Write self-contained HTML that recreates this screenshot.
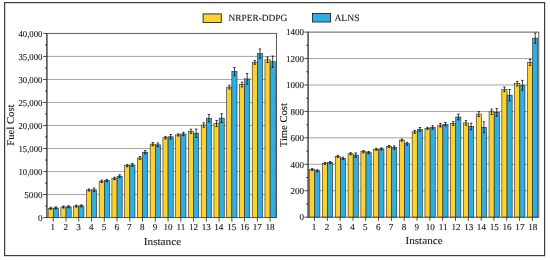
<!DOCTYPE html><html><head><meta charset="utf-8"><style>html,body{margin:0;padding:0;background:#fff;}svg{display:block;}text{font-family:'Liberation Serif', serif;fill:#1a1a1a;stroke:#1a1a1a;stroke-width:0.12px;text-rendering:geometricPrecision;}</style></head><body>
<svg width="550" height="260" viewBox="0 0 550 260">
<rect x="0" y="0" width="550" height="260" fill="#fff"/>
<rect x="4.6" y="2.6" width="540" height="253" fill="none" stroke="#3c3c3c" stroke-width="1.2"/>
<rect x="203.1" y="13.9" width="18.2" height="8.6" fill="#fdd22b" stroke="#262626" stroke-width="0.9"/>
<rect x="312.5" y="13.5" width="18.1" height="8.5" fill="#31aee0" stroke="#262626" stroke-width="0.9"/>
<text x="228.52" y="21.00" style="font-size:9.6px" textLength="58.78" lengthAdjust="spacingAndGlyphs">NRPER-DDPG</text>
<text x="334.40" y="21.00" style="font-size:9.6px" textLength="25.19" lengthAdjust="spacingAndGlyphs">ALNS</text>
<line x1="46.90" y1="194.57" x2="276.50" y2="194.57" stroke="#959595" stroke-width="0.85"/>
<line x1="46.90" y1="171.55" x2="276.50" y2="171.55" stroke="#959595" stroke-width="0.85"/>
<line x1="46.90" y1="148.52" x2="276.50" y2="148.52" stroke="#959595" stroke-width="0.85"/>
<line x1="46.90" y1="125.50" x2="276.50" y2="125.50" stroke="#959595" stroke-width="0.85"/>
<line x1="46.90" y1="102.47" x2="276.50" y2="102.47" stroke="#959595" stroke-width="0.85"/>
<line x1="46.90" y1="79.45" x2="276.50" y2="79.45" stroke="#959595" stroke-width="0.85"/>
<line x1="46.90" y1="56.43" x2="276.50" y2="56.43" stroke="#959595" stroke-width="0.85"/>
<rect x="48.13" y="208.31" width="5.15" height="9.29" fill="#fdd22b" stroke="#262626" stroke-width="0.6"/>
<rect x="53.28" y="207.93" width="5.15" height="9.67" fill="#31aee0" stroke="#262626" stroke-width="0.6"/>
<path d="M50.70 207.31V209.31M49.50 207.31H51.90M49.50 209.31H51.90" stroke="#000" stroke-width="0.75" fill="none"/>
<path d="M55.85 206.93V208.93M54.65 206.93H57.05M54.65 208.93H57.05" stroke="#000" stroke-width="0.75" fill="none"/>
<rect x="60.88" y="207.01" width="5.15" height="10.59" fill="#fdd22b" stroke="#262626" stroke-width="0.6"/>
<rect x="66.03" y="206.78" width="5.15" height="10.82" fill="#31aee0" stroke="#262626" stroke-width="0.6"/>
<path d="M63.46 206.01V208.01M62.26 206.01H64.66M62.26 208.01H64.66" stroke="#000" stroke-width="0.75" fill="none"/>
<path d="M68.61 205.78V207.78M67.41 205.78H69.81M67.41 207.78H69.81" stroke="#000" stroke-width="0.75" fill="none"/>
<rect x="73.64" y="206.09" width="5.15" height="11.51" fill="#fdd22b" stroke="#262626" stroke-width="0.6"/>
<rect x="78.79" y="205.86" width="5.15" height="11.74" fill="#31aee0" stroke="#262626" stroke-width="0.6"/>
<path d="M76.21 205.09V207.09M75.01 205.09H77.41M75.01 207.09H77.41" stroke="#000" stroke-width="0.75" fill="none"/>
<path d="M81.36 204.86V206.86M80.16 204.86H82.56M80.16 206.86H82.56" stroke="#000" stroke-width="0.75" fill="none"/>
<rect x="86.39" y="189.97" width="5.15" height="27.63" fill="#fdd22b" stroke="#262626" stroke-width="0.6"/>
<rect x="91.54" y="189.83" width="5.15" height="27.77" fill="#31aee0" stroke="#262626" stroke-width="0.6"/>
<path d="M88.97 188.97V190.97M87.77 188.97H90.17M87.77 190.97H90.17" stroke="#000" stroke-width="0.75" fill="none"/>
<path d="M94.12 188.03V191.63M92.92 188.03H95.32M92.92 191.63H95.32" stroke="#000" stroke-width="0.75" fill="none"/>
<rect x="99.15" y="181.22" width="5.15" height="36.38" fill="#fdd22b" stroke="#262626" stroke-width="0.6"/>
<rect x="104.30" y="180.53" width="5.15" height="37.07" fill="#31aee0" stroke="#262626" stroke-width="0.6"/>
<path d="M101.72 180.02V182.42M100.52 180.02H102.92M100.52 182.42H102.92" stroke="#000" stroke-width="0.75" fill="none"/>
<path d="M106.88 179.33V181.73M105.67 179.33H108.08M105.67 181.73H108.08" stroke="#000" stroke-width="0.75" fill="none"/>
<rect x="111.91" y="178.46" width="5.15" height="39.14" fill="#fdd22b" stroke="#262626" stroke-width="0.6"/>
<rect x="117.06" y="176.16" width="5.15" height="41.44" fill="#31aee0" stroke="#262626" stroke-width="0.6"/>
<path d="M114.48 177.26V179.66M113.28 177.26H115.68M113.28 179.66H115.68" stroke="#000" stroke-width="0.75" fill="none"/>
<path d="M119.63 174.75V177.56M118.43 174.75H120.83M118.43 177.56H120.83" stroke="#000" stroke-width="0.75" fill="none"/>
<rect x="124.66" y="165.56" width="5.15" height="52.04" fill="#fdd22b" stroke="#262626" stroke-width="0.6"/>
<rect x="129.81" y="164.87" width="5.15" height="52.73" fill="#31aee0" stroke="#262626" stroke-width="0.6"/>
<path d="M127.24 164.36V166.76M126.04 164.36H128.44M126.04 166.76H128.44" stroke="#000" stroke-width="0.75" fill="none"/>
<path d="M132.39 163.47V166.27M131.19 163.47H133.59M131.19 166.27H133.59" stroke="#000" stroke-width="0.75" fill="none"/>
<rect x="137.42" y="157.97" width="5.15" height="59.63" fill="#fdd22b" stroke="#262626" stroke-width="0.6"/>
<rect x="142.57" y="152.21" width="5.15" height="65.39" fill="#31aee0" stroke="#262626" stroke-width="0.6"/>
<path d="M139.99 156.57V159.37M138.79 156.57H141.19M138.79 159.37H141.19" stroke="#000" stroke-width="0.75" fill="none"/>
<path d="M145.14 150.61V153.81M143.94 150.61H146.34M143.94 153.81H146.34" stroke="#000" stroke-width="0.75" fill="none"/>
<rect x="150.17" y="144.15" width="5.15" height="73.45" fill="#fdd22b" stroke="#262626" stroke-width="0.6"/>
<rect x="155.32" y="144.84" width="5.15" height="72.76" fill="#31aee0" stroke="#262626" stroke-width="0.6"/>
<path d="M152.75 142.55V145.75M151.55 142.55H153.95M151.55 145.75H153.95" stroke="#000" stroke-width="0.75" fill="none"/>
<path d="M157.90 142.94V146.74M156.70 142.94H159.10M156.70 146.74H159.10" stroke="#000" stroke-width="0.75" fill="none"/>
<rect x="162.93" y="137.70" width="5.15" height="79.90" fill="#fdd22b" stroke="#262626" stroke-width="0.6"/>
<rect x="168.08" y="136.78" width="5.15" height="80.82" fill="#31aee0" stroke="#262626" stroke-width="0.6"/>
<path d="M165.50 136.40V139.00M164.30 136.40H166.70M164.30 139.00H166.70" stroke="#000" stroke-width="0.75" fill="none"/>
<path d="M170.65 134.48V139.08M169.45 134.48H171.85M169.45 139.08H171.85" stroke="#000" stroke-width="0.75" fill="none"/>
<rect x="175.68" y="134.94" width="5.15" height="82.66" fill="#fdd22b" stroke="#262626" stroke-width="0.6"/>
<rect x="180.83" y="133.95" width="5.15" height="83.65" fill="#31aee0" stroke="#262626" stroke-width="0.6"/>
<path d="M178.26 133.84V136.04M177.06 133.84H179.46M177.06 136.04H179.46" stroke="#000" stroke-width="0.75" fill="none"/>
<path d="M183.41 132.25V135.65M182.21 132.25H184.61M182.21 135.65H184.61" stroke="#000" stroke-width="0.75" fill="none"/>
<rect x="188.44" y="131.30" width="5.15" height="86.30" fill="#fdd22b" stroke="#262626" stroke-width="0.6"/>
<rect x="193.59" y="133.19" width="5.15" height="84.41" fill="#31aee0" stroke="#262626" stroke-width="0.6"/>
<path d="M191.01 129.20V133.40M189.81 129.20H192.21M189.81 133.40H192.21" stroke="#000" stroke-width="0.75" fill="none"/>
<path d="M196.16 128.99V137.39M194.96 128.99H197.36M194.96 137.39H197.36" stroke="#000" stroke-width="0.75" fill="none"/>
<rect x="201.19" y="125.04" width="5.15" height="92.56" fill="#fdd22b" stroke="#262626" stroke-width="0.6"/>
<rect x="206.34" y="118.21" width="5.15" height="99.39" fill="#31aee0" stroke="#262626" stroke-width="0.6"/>
<path d="M203.77 122.84V127.24M202.57 122.84H204.97M202.57 127.24H204.97" stroke="#000" stroke-width="0.75" fill="none"/>
<path d="M208.92 114.51V121.91M207.72 114.51H210.12M207.72 121.91H210.12" stroke="#000" stroke-width="0.75" fill="none"/>
<rect x="213.95" y="123.57" width="5.15" height="94.03" fill="#fdd22b" stroke="#262626" stroke-width="0.6"/>
<rect x="219.10" y="118.13" width="5.15" height="99.47" fill="#31aee0" stroke="#262626" stroke-width="0.6"/>
<path d="M216.53 120.57V126.57M215.33 120.57H217.72M215.33 126.57H217.72" stroke="#000" stroke-width="0.75" fill="none"/>
<path d="M221.67 113.73V122.53M220.47 113.73H222.87M220.47 122.53H222.87" stroke="#000" stroke-width="0.75" fill="none"/>
<rect x="226.71" y="87.14" width="5.15" height="130.46" fill="#fdd22b" stroke="#262626" stroke-width="0.6"/>
<rect x="231.86" y="71.62" width="5.15" height="145.98" fill="#31aee0" stroke="#262626" stroke-width="0.6"/>
<path d="M229.28 85.24V89.04M228.08 85.24H230.48M228.08 89.04H230.48" stroke="#000" stroke-width="0.75" fill="none"/>
<path d="M234.43 67.52V75.72M233.23 67.52H235.63M233.23 75.72H235.63" stroke="#000" stroke-width="0.75" fill="none"/>
<rect x="239.46" y="84.52" width="5.15" height="133.08" fill="#fdd22b" stroke="#262626" stroke-width="0.6"/>
<rect x="244.61" y="78.90" width="5.15" height="138.70" fill="#31aee0" stroke="#262626" stroke-width="0.6"/>
<path d="M242.04 82.12V86.92M240.84 82.12H243.24M240.84 86.92H243.24" stroke="#000" stroke-width="0.75" fill="none"/>
<path d="M247.19 73.50V84.30M245.99 73.50H248.39M245.99 84.30H248.39" stroke="#000" stroke-width="0.75" fill="none"/>
<rect x="252.22" y="62.41" width="5.15" height="155.19" fill="#fdd22b" stroke="#262626" stroke-width="0.6"/>
<rect x="257.37" y="53.57" width="5.15" height="164.03" fill="#31aee0" stroke="#262626" stroke-width="0.6"/>
<path d="M254.79 60.61V64.21M253.59 60.61H255.99M253.59 64.21H255.99" stroke="#000" stroke-width="0.75" fill="none"/>
<path d="M259.94 48.97V58.17M258.74 48.97H261.14M258.74 58.17H261.14" stroke="#000" stroke-width="0.75" fill="none"/>
<rect x="264.97" y="59.79" width="5.15" height="157.81" fill="#fdd22b" stroke="#262626" stroke-width="0.6"/>
<rect x="270.12" y="61.72" width="5.15" height="155.88" fill="#31aee0" stroke="#262626" stroke-width="0.6"/>
<path d="M267.55 56.99V62.59M266.35 56.99H268.75M266.35 62.59H268.75" stroke="#000" stroke-width="0.75" fill="none"/>
<path d="M272.70 56.02V67.42M271.50 56.02H273.90M271.50 67.42H273.90" stroke="#000" stroke-width="0.75" fill="none"/>
<rect x="46.90" y="33.40" width="229.60" height="184.20" fill="none" stroke="#4a4a4a" stroke-width="0.9"/>
<line x1="46.90" y1="32.95" x2="46.90" y2="218.05" stroke="#4a4a4a" stroke-width="1.15"/>
<line x1="43.10" y1="217.60" x2="46.90" y2="217.60" stroke="#222" stroke-width="0.8"/>
<line x1="43.10" y1="194.57" x2="46.90" y2="194.57" stroke="#222" stroke-width="0.8"/>
<line x1="43.10" y1="171.55" x2="46.90" y2="171.55" stroke="#222" stroke-width="0.8"/>
<line x1="43.10" y1="148.52" x2="46.90" y2="148.52" stroke="#222" stroke-width="0.8"/>
<line x1="43.10" y1="125.50" x2="46.90" y2="125.50" stroke="#222" stroke-width="0.8"/>
<line x1="43.10" y1="102.47" x2="46.90" y2="102.47" stroke="#222" stroke-width="0.8"/>
<line x1="43.10" y1="79.45" x2="46.90" y2="79.45" stroke="#222" stroke-width="0.8"/>
<line x1="43.10" y1="56.43" x2="46.90" y2="56.43" stroke="#222" stroke-width="0.8"/>
<line x1="43.10" y1="33.40" x2="46.90" y2="33.40" stroke="#222" stroke-width="0.8"/>
<line x1="45.10" y1="206.09" x2="46.90" y2="206.09" stroke="#111" stroke-width="0.85"/>
<line x1="45.10" y1="183.06" x2="46.90" y2="183.06" stroke="#111" stroke-width="0.85"/>
<line x1="45.10" y1="160.04" x2="46.90" y2="160.04" stroke="#111" stroke-width="0.85"/>
<line x1="45.10" y1="137.01" x2="46.90" y2="137.01" stroke="#111" stroke-width="0.85"/>
<line x1="45.10" y1="113.99" x2="46.90" y2="113.99" stroke="#111" stroke-width="0.85"/>
<line x1="45.10" y1="90.96" x2="46.90" y2="90.96" stroke="#111" stroke-width="0.85"/>
<line x1="45.10" y1="67.94" x2="46.90" y2="67.94" stroke="#111" stroke-width="0.85"/>
<line x1="45.10" y1="44.91" x2="46.90" y2="44.91" stroke="#111" stroke-width="0.85"/>
<line x1="53.28" y1="217.60" x2="53.28" y2="221.60" stroke="#222" stroke-width="0.8"/>
<line x1="66.03" y1="217.60" x2="66.03" y2="221.60" stroke="#222" stroke-width="0.8"/>
<line x1="78.79" y1="217.60" x2="78.79" y2="221.60" stroke="#222" stroke-width="0.8"/>
<line x1="91.54" y1="217.60" x2="91.54" y2="221.60" stroke="#222" stroke-width="0.8"/>
<line x1="104.30" y1="217.60" x2="104.30" y2="221.60" stroke="#222" stroke-width="0.8"/>
<line x1="117.06" y1="217.60" x2="117.06" y2="221.60" stroke="#222" stroke-width="0.8"/>
<line x1="129.81" y1="217.60" x2="129.81" y2="221.60" stroke="#222" stroke-width="0.8"/>
<line x1="142.57" y1="217.60" x2="142.57" y2="221.60" stroke="#222" stroke-width="0.8"/>
<line x1="155.32" y1="217.60" x2="155.32" y2="221.60" stroke="#222" stroke-width="0.8"/>
<line x1="168.08" y1="217.60" x2="168.08" y2="221.60" stroke="#222" stroke-width="0.8"/>
<line x1="180.83" y1="217.60" x2="180.83" y2="221.60" stroke="#222" stroke-width="0.8"/>
<line x1="193.59" y1="217.60" x2="193.59" y2="221.60" stroke="#222" stroke-width="0.8"/>
<line x1="206.34" y1="217.60" x2="206.34" y2="221.60" stroke="#222" stroke-width="0.8"/>
<line x1="219.10" y1="217.60" x2="219.10" y2="221.60" stroke="#222" stroke-width="0.8"/>
<line x1="231.86" y1="217.60" x2="231.86" y2="221.60" stroke="#222" stroke-width="0.8"/>
<line x1="244.61" y1="217.60" x2="244.61" y2="221.60" stroke="#222" stroke-width="0.8"/>
<line x1="257.37" y1="217.60" x2="257.37" y2="221.60" stroke="#222" stroke-width="0.8"/>
<line x1="270.12" y1="217.60" x2="270.12" y2="221.60" stroke="#222" stroke-width="0.8"/>
<g class="t">
<text x="50.58" y="230.30" style="font-size:9.1px">1</text>
<text x="63.50" y="230.30" style="font-size:9.1px">2</text>
<text x="76.18" y="230.30" style="font-size:9.1px">3</text>
<text x="88.95" y="230.30" style="font-size:9.1px">4</text>
<text x="101.65" y="230.30" style="font-size:9.1px">5</text>
<text x="114.42" y="230.30" style="font-size:9.1px">6</text>
<text x="127.08" y="230.30" style="font-size:9.1px">7</text>
<text x="139.99" y="230.30" style="font-size:9.1px">8</text>
<text x="152.78" y="230.30" style="font-size:9.1px">9</text>
<text x="163.40" y="230.30" style="font-size:9.1px">10</text>
<text x="176.43" y="230.30" style="font-size:9.1px">11</text>
<text x="188.99" y="230.30" style="font-size:9.1px">12</text>
<text x="201.68" y="230.30" style="font-size:9.1px">13</text>
<text x="214.32" y="230.30" style="font-size:9.1px">14</text>
<text x="227.19" y="230.30" style="font-size:9.1px">15</text>
<text x="239.90" y="230.30" style="font-size:9.1px">16</text>
<text x="252.66" y="230.30" style="font-size:9.1px">17</text>
<text x="265.44" y="230.30" style="font-size:9.1px">18</text>
<text x="37.94" y="220.83" style="font-size:9.1px" textLength="4.55" lengthAdjust="spacingAndGlyphs">0</text>
<text x="24.29" y="197.80" style="font-size:9.1px" textLength="18.20" lengthAdjust="spacingAndGlyphs">5000</text>
<text x="18.45" y="174.78" style="font-size:9.1px" textLength="24.02" lengthAdjust="spacingAndGlyphs">10,000</text>
<text x="18.45" y="151.75" style="font-size:9.1px" textLength="24.02" lengthAdjust="spacingAndGlyphs">15,000</text>
<text x="18.45" y="128.73" style="font-size:9.1px" textLength="24.02" lengthAdjust="spacingAndGlyphs">20,000</text>
<text x="18.45" y="105.70" style="font-size:9.1px" textLength="24.02" lengthAdjust="spacingAndGlyphs">25,000</text>
<text x="18.45" y="82.68" style="font-size:9.1px" textLength="24.02" lengthAdjust="spacingAndGlyphs">30,000</text>
<text x="18.45" y="59.65" style="font-size:9.1px" textLength="24.02" lengthAdjust="spacingAndGlyphs">35,000</text>
<text x="18.45" y="36.63" style="font-size:9.1px" textLength="24.02" lengthAdjust="spacingAndGlyphs">40,000</text>
<text x="143.81" y="244.70" style="font-size:10.6px" textLength="37.38" lengthAdjust="spacingAndGlyphs">Instance</text>
<text transform="translate(14.30,145.50) rotate(-90)" x="-0.32" y="0" style="font-size:10.6px" textLength="41.37" lengthAdjust="spacingAndGlyphs">Fuel Cost</text>
</g>
<line x1="308.10" y1="190.76" x2="538.80" y2="190.76" stroke="#959595" stroke-width="0.85"/>
<line x1="308.10" y1="164.31" x2="538.80" y2="164.31" stroke="#959595" stroke-width="0.85"/>
<line x1="308.10" y1="137.87" x2="538.80" y2="137.87" stroke="#959595" stroke-width="0.85"/>
<line x1="308.10" y1="111.43" x2="538.80" y2="111.43" stroke="#959595" stroke-width="0.85"/>
<line x1="308.10" y1="84.99" x2="538.80" y2="84.99" stroke="#959595" stroke-width="0.85"/>
<line x1="308.10" y1="58.54" x2="538.80" y2="58.54" stroke="#959595" stroke-width="0.85"/>
<rect x="309.61" y="169.60" width="5.15" height="47.60" fill="#fdd22b" stroke="#262626" stroke-width="0.6"/>
<rect x="314.76" y="170.79" width="5.15" height="46.41" fill="#31aee0" stroke="#262626" stroke-width="0.6"/>
<path d="M312.18 168.60V170.60M310.98 168.60H313.38M310.98 170.60H313.38" stroke="#000" stroke-width="0.75" fill="none"/>
<path d="M317.33 169.79V171.79M316.13 169.79H318.53M316.13 171.79H318.53" stroke="#000" stroke-width="0.75" fill="none"/>
<rect x="322.43" y="163.39" width="5.15" height="53.81" fill="#fdd22b" stroke="#262626" stroke-width="0.6"/>
<rect x="327.58" y="162.60" width="5.15" height="54.60" fill="#31aee0" stroke="#262626" stroke-width="0.6"/>
<path d="M325.00 162.39V164.39M323.80 162.39H326.20M323.80 164.39H326.20" stroke="#000" stroke-width="0.75" fill="none"/>
<path d="M330.15 161.60V163.60M328.95 161.60H331.35M328.95 163.60H331.35" stroke="#000" stroke-width="0.75" fill="none"/>
<rect x="335.24" y="156.38" width="5.15" height="60.82" fill="#fdd22b" stroke="#262626" stroke-width="0.6"/>
<rect x="340.39" y="158.23" width="5.15" height="58.97" fill="#31aee0" stroke="#262626" stroke-width="0.6"/>
<path d="M337.82 155.38V157.38M336.62 155.38H339.02M336.62 157.38H339.02" stroke="#000" stroke-width="0.75" fill="none"/>
<path d="M342.97 157.23V159.23M341.77 157.23H344.17M341.77 159.23H344.17" stroke="#000" stroke-width="0.75" fill="none"/>
<rect x="348.06" y="153.74" width="5.15" height="63.46" fill="#fdd22b" stroke="#262626" stroke-width="0.6"/>
<rect x="353.21" y="155.06" width="5.15" height="62.14" fill="#31aee0" stroke="#262626" stroke-width="0.6"/>
<path d="M350.63 152.74V154.74M349.43 152.74H351.83M349.43 154.74H351.83" stroke="#000" stroke-width="0.75" fill="none"/>
<path d="M355.78 152.86V157.26M354.58 152.86H356.98M354.58 157.26H356.98" stroke="#000" stroke-width="0.75" fill="none"/>
<rect x="360.88" y="151.62" width="5.15" height="65.58" fill="#fdd22b" stroke="#262626" stroke-width="0.6"/>
<rect x="366.02" y="152.55" width="5.15" height="64.65" fill="#31aee0" stroke="#262626" stroke-width="0.6"/>
<path d="M363.45 150.42V152.82M362.25 150.42H364.65M362.25 152.82H364.65" stroke="#000" stroke-width="0.75" fill="none"/>
<path d="M368.60 151.45V153.65M367.40 151.45H369.80M367.40 153.65H369.80" stroke="#000" stroke-width="0.75" fill="none"/>
<rect x="373.69" y="149.24" width="5.15" height="67.96" fill="#fdd22b" stroke="#262626" stroke-width="0.6"/>
<rect x="378.84" y="148.85" width="5.15" height="68.35" fill="#31aee0" stroke="#262626" stroke-width="0.6"/>
<path d="M376.27 148.24V150.24M375.07 148.24H377.47M375.07 150.24H377.47" stroke="#000" stroke-width="0.75" fill="none"/>
<path d="M381.42 147.85V149.85M380.22 147.85H382.62M380.22 149.85H382.62" stroke="#000" stroke-width="0.75" fill="none"/>
<rect x="386.51" y="146.47" width="5.15" height="70.73" fill="#fdd22b" stroke="#262626" stroke-width="0.6"/>
<rect x="391.66" y="147.52" width="5.15" height="69.68" fill="#31aee0" stroke="#262626" stroke-width="0.6"/>
<path d="M389.08 145.47V147.47M387.88 145.47H390.28M387.88 147.47H390.28" stroke="#000" stroke-width="0.75" fill="none"/>
<path d="M394.23 145.92V149.12M393.03 145.92H395.43M393.03 149.12H395.43" stroke="#000" stroke-width="0.75" fill="none"/>
<rect x="399.33" y="140.12" width="5.15" height="77.08" fill="#fdd22b" stroke="#262626" stroke-width="0.6"/>
<rect x="404.48" y="143.69" width="5.15" height="73.51" fill="#31aee0" stroke="#262626" stroke-width="0.6"/>
<path d="M401.90 139.12V141.12M400.70 139.12H403.10M400.70 141.12H403.10" stroke="#000" stroke-width="0.75" fill="none"/>
<path d="M407.05 142.19V145.19M405.85 142.19H408.25M405.85 145.19H408.25" stroke="#000" stroke-width="0.75" fill="none"/>
<rect x="412.14" y="131.79" width="5.15" height="85.41" fill="#fdd22b" stroke="#262626" stroke-width="0.6"/>
<rect x="417.29" y="129.41" width="5.15" height="87.79" fill="#31aee0" stroke="#262626" stroke-width="0.6"/>
<path d="M414.72 130.29V133.29M413.52 130.29H415.92M413.52 133.29H415.92" stroke="#000" stroke-width="0.75" fill="none"/>
<path d="M419.87 127.51V131.31M418.67 127.51H421.07M418.67 131.31H421.07" stroke="#000" stroke-width="0.75" fill="none"/>
<rect x="424.96" y="128.35" width="5.15" height="88.85" fill="#fdd22b" stroke="#262626" stroke-width="0.6"/>
<rect x="430.11" y="127.43" width="5.15" height="89.77" fill="#31aee0" stroke="#262626" stroke-width="0.6"/>
<path d="M427.53 127.35V129.35M426.33 127.35H428.73M426.33 129.35H428.73" stroke="#000" stroke-width="0.75" fill="none"/>
<path d="M432.68 125.73V129.13M431.48 125.73H433.88M431.48 129.13H433.88" stroke="#000" stroke-width="0.75" fill="none"/>
<rect x="437.77" y="125.18" width="5.15" height="92.02" fill="#fdd22b" stroke="#262626" stroke-width="0.6"/>
<rect x="442.92" y="124.25" width="5.15" height="92.95" fill="#31aee0" stroke="#262626" stroke-width="0.6"/>
<path d="M440.35 123.38V126.98M439.15 123.38H441.55M439.15 126.98H441.55" stroke="#000" stroke-width="0.75" fill="none"/>
<path d="M445.50 122.55V125.95M444.30 122.55H446.70M444.30 125.95H446.70" stroke="#000" stroke-width="0.75" fill="none"/>
<rect x="450.59" y="123.46" width="5.15" height="93.74" fill="#fdd22b" stroke="#262626" stroke-width="0.6"/>
<rect x="455.74" y="116.98" width="5.15" height="100.22" fill="#31aee0" stroke="#262626" stroke-width="0.6"/>
<path d="M453.17 121.56V125.36M451.97 121.56H454.37M451.97 125.36H454.37" stroke="#000" stroke-width="0.75" fill="none"/>
<path d="M458.32 114.18V119.78M457.12 114.18H459.52M457.12 119.78H459.52" stroke="#000" stroke-width="0.75" fill="none"/>
<rect x="463.41" y="122.93" width="5.15" height="94.27" fill="#fdd22b" stroke="#262626" stroke-width="0.6"/>
<rect x="468.56" y="126.50" width="5.15" height="90.70" fill="#31aee0" stroke="#262626" stroke-width="0.6"/>
<path d="M465.98 120.63V125.23M464.78 120.63H467.18M464.78 125.23H467.18" stroke="#000" stroke-width="0.75" fill="none"/>
<path d="M471.13 123.20V129.80M469.93 123.20H472.33M469.93 129.80H472.33" stroke="#000" stroke-width="0.75" fill="none"/>
<rect x="476.23" y="114.07" width="5.15" height="103.13" fill="#fdd22b" stroke="#262626" stroke-width="0.6"/>
<rect x="481.38" y="127.29" width="5.15" height="89.91" fill="#31aee0" stroke="#262626" stroke-width="0.6"/>
<path d="M478.80 111.67V116.47M477.60 111.67H480.00M477.60 116.47H480.00" stroke="#000" stroke-width="0.75" fill="none"/>
<path d="M483.95 121.79V132.79M482.75 121.79H485.15M482.75 132.79H485.15" stroke="#000" stroke-width="0.75" fill="none"/>
<rect x="489.04" y="111.83" width="5.15" height="105.37" fill="#fdd22b" stroke="#262626" stroke-width="0.6"/>
<rect x="494.19" y="112.35" width="5.15" height="104.85" fill="#31aee0" stroke="#262626" stroke-width="0.6"/>
<path d="M491.62 109.13V114.53M490.42 109.13H492.82M490.42 114.53H492.82" stroke="#000" stroke-width="0.75" fill="none"/>
<path d="M496.77 108.55V116.15M495.57 108.55H497.97M495.57 116.15H497.97" stroke="#000" stroke-width="0.75" fill="none"/>
<rect x="501.86" y="89.35" width="5.15" height="127.85" fill="#fdd22b" stroke="#262626" stroke-width="0.6"/>
<rect x="507.01" y="95.17" width="5.15" height="122.03" fill="#31aee0" stroke="#262626" stroke-width="0.6"/>
<path d="M504.43 87.05V91.65M503.23 87.05H505.63M503.23 91.65H505.63" stroke="#000" stroke-width="0.75" fill="none"/>
<path d="M509.58 89.47V100.87M508.38 89.47H510.78M508.38 100.87H510.78" stroke="#000" stroke-width="0.75" fill="none"/>
<rect x="514.67" y="83.66" width="5.15" height="133.54" fill="#fdd22b" stroke="#262626" stroke-width="0.6"/>
<rect x="519.82" y="85.25" width="5.15" height="131.95" fill="#31aee0" stroke="#262626" stroke-width="0.6"/>
<path d="M517.25 81.36V85.96M516.05 81.36H518.45M516.05 85.96H518.45" stroke="#000" stroke-width="0.75" fill="none"/>
<path d="M522.40 80.35V90.15M521.20 80.35H523.60M521.20 90.15H523.60" stroke="#000" stroke-width="0.75" fill="none"/>
<rect x="527.49" y="62.51" width="5.15" height="154.69" fill="#fdd22b" stroke="#262626" stroke-width="0.6"/>
<rect x="532.64" y="38.18" width="5.15" height="179.02" fill="#31aee0" stroke="#262626" stroke-width="0.6"/>
<path d="M530.07 59.51V65.51M528.87 59.51H531.27M528.87 65.51H531.27" stroke="#000" stroke-width="0.75" fill="none"/>
<path d="M535.22 33.08V43.28M534.02 33.08H536.42M534.02 43.28H536.42" stroke="#000" stroke-width="0.75" fill="none"/>
<rect x="308.10" y="32.10" width="230.70" height="185.10" fill="none" stroke="#4a4a4a" stroke-width="0.9"/>
<line x1="308.10" y1="31.65" x2="308.10" y2="217.65" stroke="#4a4a4a" stroke-width="1.15"/>
<line x1="304.30" y1="217.20" x2="308.10" y2="217.20" stroke="#222" stroke-width="0.8"/>
<line x1="304.30" y1="190.76" x2="308.10" y2="190.76" stroke="#222" stroke-width="0.8"/>
<line x1="304.30" y1="164.31" x2="308.10" y2="164.31" stroke="#222" stroke-width="0.8"/>
<line x1="304.30" y1="137.87" x2="308.10" y2="137.87" stroke="#222" stroke-width="0.8"/>
<line x1="304.30" y1="111.43" x2="308.10" y2="111.43" stroke="#222" stroke-width="0.8"/>
<line x1="304.30" y1="84.99" x2="308.10" y2="84.99" stroke="#222" stroke-width="0.8"/>
<line x1="304.30" y1="58.54" x2="308.10" y2="58.54" stroke="#222" stroke-width="0.8"/>
<line x1="304.30" y1="32.10" x2="308.10" y2="32.10" stroke="#222" stroke-width="0.8"/>
<line x1="306.30" y1="203.98" x2="308.10" y2="203.98" stroke="#111" stroke-width="0.85"/>
<line x1="306.30" y1="177.54" x2="308.10" y2="177.54" stroke="#111" stroke-width="0.85"/>
<line x1="306.30" y1="151.09" x2="308.10" y2="151.09" stroke="#111" stroke-width="0.85"/>
<line x1="306.30" y1="124.65" x2="308.10" y2="124.65" stroke="#111" stroke-width="0.85"/>
<line x1="306.30" y1="98.21" x2="308.10" y2="98.21" stroke="#111" stroke-width="0.85"/>
<line x1="306.30" y1="71.76" x2="308.10" y2="71.76" stroke="#111" stroke-width="0.85"/>
<line x1="306.30" y1="45.32" x2="308.10" y2="45.32" stroke="#111" stroke-width="0.85"/>
<line x1="314.51" y1="217.20" x2="314.51" y2="220.80" stroke="#222" stroke-width="0.8"/>
<line x1="327.33" y1="217.20" x2="327.33" y2="220.80" stroke="#222" stroke-width="0.8"/>
<line x1="340.14" y1="217.20" x2="340.14" y2="220.80" stroke="#222" stroke-width="0.8"/>
<line x1="352.96" y1="217.20" x2="352.96" y2="220.80" stroke="#222" stroke-width="0.8"/>
<line x1="365.77" y1="217.20" x2="365.77" y2="220.80" stroke="#222" stroke-width="0.8"/>
<line x1="378.59" y1="217.20" x2="378.59" y2="220.80" stroke="#222" stroke-width="0.8"/>
<line x1="391.41" y1="217.20" x2="391.41" y2="220.80" stroke="#222" stroke-width="0.8"/>
<line x1="404.23" y1="217.20" x2="404.23" y2="220.80" stroke="#222" stroke-width="0.8"/>
<line x1="417.04" y1="217.20" x2="417.04" y2="220.80" stroke="#222" stroke-width="0.8"/>
<line x1="429.86" y1="217.20" x2="429.86" y2="220.80" stroke="#222" stroke-width="0.8"/>
<line x1="442.67" y1="217.20" x2="442.67" y2="220.80" stroke="#222" stroke-width="0.8"/>
<line x1="455.49" y1="217.20" x2="455.49" y2="220.80" stroke="#222" stroke-width="0.8"/>
<line x1="468.31" y1="217.20" x2="468.31" y2="220.80" stroke="#222" stroke-width="0.8"/>
<line x1="481.12" y1="217.20" x2="481.12" y2="220.80" stroke="#222" stroke-width="0.8"/>
<line x1="493.94" y1="217.20" x2="493.94" y2="220.80" stroke="#222" stroke-width="0.8"/>
<line x1="506.76" y1="217.20" x2="506.76" y2="220.80" stroke="#222" stroke-width="0.8"/>
<line x1="519.57" y1="217.20" x2="519.57" y2="220.80" stroke="#222" stroke-width="0.8"/>
<line x1="532.39" y1="217.20" x2="532.39" y2="220.80" stroke="#222" stroke-width="0.8"/>
<g class="t">
<text x="311.81" y="229.80" style="font-size:9.1px">1</text>
<text x="324.80" y="229.80" style="font-size:9.1px">2</text>
<text x="337.53" y="229.80" style="font-size:9.1px">3</text>
<text x="350.36" y="229.80" style="font-size:9.1px">4</text>
<text x="363.12" y="229.80" style="font-size:9.1px">5</text>
<text x="375.96" y="229.80" style="font-size:9.1px">6</text>
<text x="388.67" y="229.80" style="font-size:9.1px">7</text>
<text x="401.65" y="229.80" style="font-size:9.1px">8</text>
<text x="414.50" y="229.80" style="font-size:9.1px">9</text>
<text x="425.68" y="229.80" style="font-size:9.1px">10</text>
<text x="438.77" y="229.80" style="font-size:9.1px">11</text>
<text x="451.39" y="229.80" style="font-size:9.1px">12</text>
<text x="464.14" y="229.80" style="font-size:9.1px">13</text>
<text x="476.85" y="229.80" style="font-size:9.1px">14</text>
<text x="489.78" y="229.80" style="font-size:9.1px">15</text>
<text x="502.55" y="229.80" style="font-size:9.1px">16</text>
<text x="515.36" y="229.80" style="font-size:9.1px">17</text>
<text x="528.21" y="229.80" style="font-size:9.1px">18</text>
<text x="299.59" y="220.43" style="font-size:9.1px" textLength="4.55" lengthAdjust="spacingAndGlyphs">0</text>
<text x="290.49" y="193.98" style="font-size:9.1px" textLength="13.65" lengthAdjust="spacingAndGlyphs">200</text>
<text x="290.49" y="167.54" style="font-size:9.1px" textLength="13.65" lengthAdjust="spacingAndGlyphs">400</text>
<text x="290.49" y="141.10" style="font-size:9.1px" textLength="13.65" lengthAdjust="spacingAndGlyphs">600</text>
<text x="290.49" y="114.65" style="font-size:9.1px" textLength="13.65" lengthAdjust="spacingAndGlyphs">800</text>
<text x="285.94" y="88.21" style="font-size:9.1px" textLength="18.20" lengthAdjust="spacingAndGlyphs">1000</text>
<text x="285.94" y="61.77" style="font-size:9.1px" textLength="18.20" lengthAdjust="spacingAndGlyphs">1200</text>
<text x="285.94" y="35.33" style="font-size:9.1px" textLength="18.20" lengthAdjust="spacingAndGlyphs">1400</text>
<text x="405.51" y="243.90" style="font-size:10.6px" textLength="37.07" lengthAdjust="spacingAndGlyphs">Instance</text>
<text transform="translate(287.00,147.00) rotate(-90)" x="-0.19" y="0" style="font-size:10.6px" textLength="44.03" lengthAdjust="spacingAndGlyphs">Time Cost</text>
</g>
</svg></body></html>
